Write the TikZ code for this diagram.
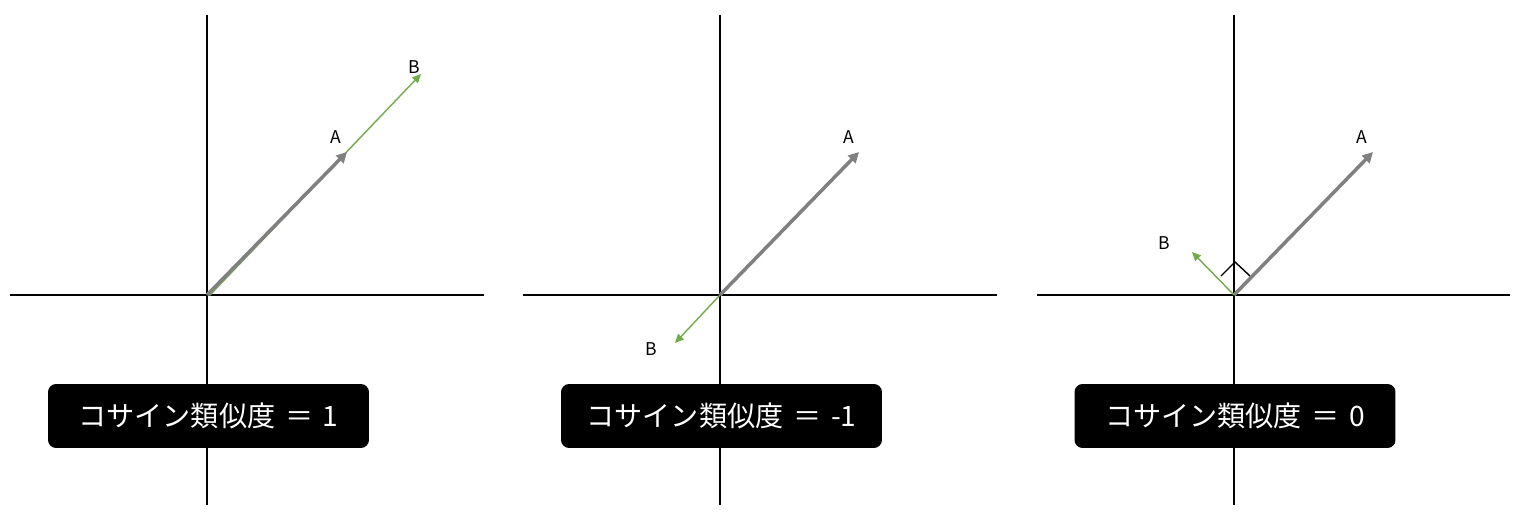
\documentclass[tikz,border=0pt]{standalone}
\usepackage{fontspec}
\setmainfont{Noto Sans CJK JP}
\usetikzlibrary{arrows.meta,positioning}
\definecolor{vecgray}{HTML}{808080}
\definecolor{vecgreen}{HTML}{70AD47}
\newcommand{\cossim}[1]{コサイン類似度\hspace{0.2cm}＝\hspace{0.19cm}#1}

\begin{document}
\begin{tikzpicture}[x=0.02cm, y=-0.02cm,
	axis/.style={draw=black, line width=0.8pt},
	veca/.style={draw=vecgray, line width=2pt,
		-{Triangle[length=6pt, width=6pt]}},
	vecb/.style={draw=vecgreen, line width=0.8pt,
		-{Triangle[length=5pt, width=4.5pt]}},
	lab/.style={font=\fontsize{10}{11}\selectfont, inner sep=0pt},
	simbox/.style={fill=black, text=white, rounded corners=0.16cm,
		minimum width=6.42cm, minimum height=1.28cm, inner sep=0pt,
		font=\fontsize{16}{18}\selectfont}]
	\useasboundingbox (0,0) rectangle (1536,516);

	% left panel
	\coordinate (o1) at (207,295);
	\draw[axis] (207,15)--(207,505);
	\draw[axis] (10,295)--(484,295);
	\coordinate (a1) at (347,152);
	\coordinate (b0) at (209.5,295.5);
	\coordinate (b1) at (421,74);
	\draw[vecb] (b0) -- (b1);
	\draw[veca] (o1) -- (a1);
	\node[lab] (la1) at (336,137) {A};
	\node[lab] (lb1) at (414,67) {B};
	\node[simbox] (s1) at (208.5,416) {\cossim{1}};

	% middle panel
	\coordinate (o2) at (720,295);
	\draw[axis] (720,15)--(720,505);
	\draw[axis] (523,295)--(997,295);
	\coordinate (a2) at (859,152);
	\coordinate (b2) at (675,343);
	\draw[veca] (o2) -- (a2);
	\draw[vecb] (o2) -- (b2);
	\node[lab] (la2) at (849,137) {A};
	\node[lab] (lb2) at (651,349) {B};
	\node[simbox] (s2) at (721.5,416) {\cossim{-1}};

	% right panel
	\coordinate (o3) at (1234,295);
	\draw[axis] (1234,15)--(1234,505);
	\draw[axis] (1037,295)--(1510,295);
	\coordinate (a3) at (1373,152);
	\coordinate (b3) at (1192,252);
	\draw[veca] (o3) -- (a3);
	\draw[vecb] (o3) -- (b3);
	\draw[line width=0.8pt] (1221,276) -- (1235,262) -- (1250,276);
	\node[lab] (la3) at (1362,137) {A};
	\node[lab] (lb3) at (1164,243) {B};
	\node[simbox] (s3) at (1235,416) {\cossim{0}};
\end{tikzpicture}
\end{document}
